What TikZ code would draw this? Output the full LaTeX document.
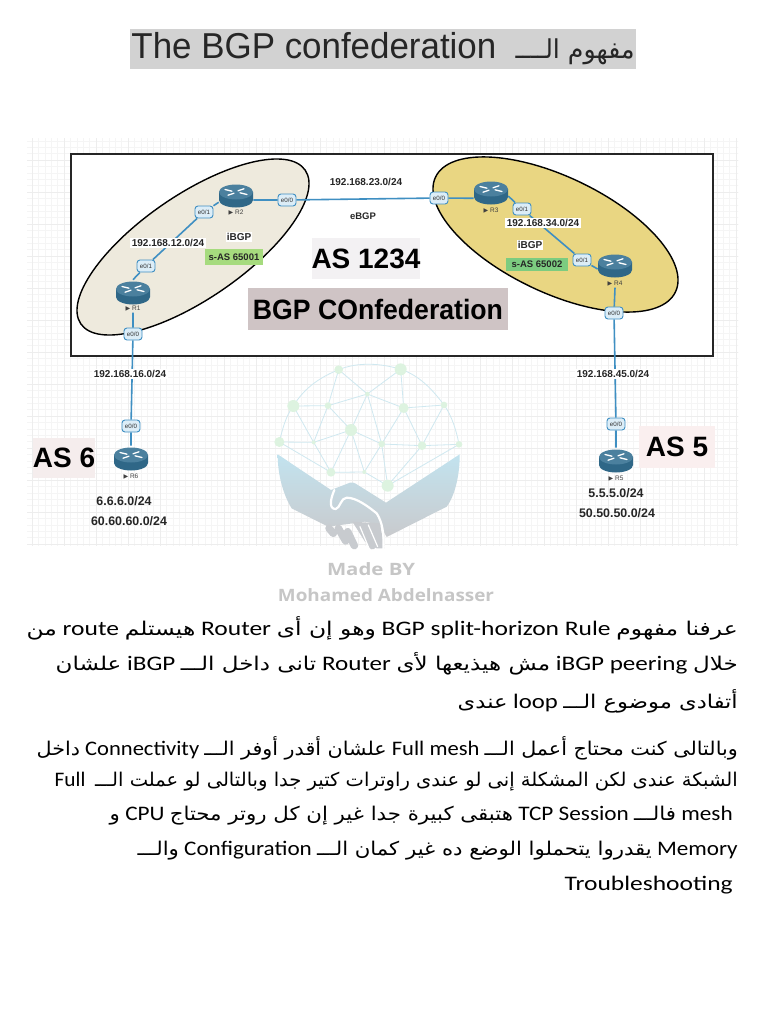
\documentclass[tikz,border=0pt]{standalone}
\usepackage{fontspec}
\usepackage{graphicx}
\setmainfont{Liberation Sans}
\newfontfamily\bodyfont{Carlito}
\newfontfamily\arfont[Script=Arabic]{DejaVu Sans}
\newfontfamily\symfont{DejaVu Sans}
\newfontfamily\markfont{Open Sans}
\TeXXeTstate=1
\newdimen\pxu \pxu=0.75pt
\newcommand{\fz}[1]{\fontsize{#1\pxu}{#1\pxu}\selectfont}
\newcommand{\A}[1]{{\arfont\fontsize{14.2pt}{16pt}\selectfont #1}}
\newcommand{\B}[1]{\beginL #1\endL{}}
\newcommand{\fitw}[2]{\resizebox{#1\pxu}{\height}{#2}}
\definecolor{linkblue}{HTML}{3F8FC2}
\definecolor{portfill}{HTML}{DCEDF7}
\definecolor{routertop}{HTML}{4B809E}
\definecolor{routerbody}{HTML}{2F6787}
\definecolor{gridminor}{HTML}{F5F5F5}
\definecolor{gridmajor}{HTML}{EDEDED}
\definecolor{wmedge}{HTML}{CFE8F0}
\definecolor{wmnode}{HTML}{DDF3E0}
\definecolor{wmgray}{HTML}{C8CBCF}
\definecolor{wmtop}{HTML}{C2E3EF}
\definecolor{wmbot}{HTML}{C9CACD}
\definecolor{markgray}{HTML}{C6C6C6}
\definecolor{ellA}{HTML}{EEEADD}
\definecolor{ellB}{HTML}{E9D682}
\definecolor{titlebg}{HTML}{D2D2D2}
\definecolor{sasA}{HTML}{A6DB7E}
\definecolor{sasB}{HTML}{7CCC80}
\definecolor{tagA}{HTML}{F3F1F3}
\definecolor{tagB}{HTML}{CFC4C5}
\definecolor{tagC}{HTML}{F5EDED}
\definecolor{tagD}{HTML}{FAEFEF}
\pgfdeclarelayer{bg}
\pgfdeclarelayer{ln}
\pgfsetlayers{bg,ln,main}
\tikzset{
  x=0.75pt,y=0.75pt,
  routerbox/.style={inner sep=0pt,minimum width=34\pxu,minimum height=26\pxu},
  routericon/.pic={
    \fill[routerbody] (-17,4) -- (-17,-4) arc[start angle=180,end angle=360,x radius=17,y radius=7.5] -- (17,4) -- cycle;
    \fill[routertop] (0,4) ellipse [x radius=17,y radius=7.5];
    \draw[white,line width=1.3\pxu,line cap=round] (-11,6.5) -- (-4,4.8) (11,1.5) -- (4,3.2) (-8,0.8) -- (-2,2.8) (8,7.2) -- (2,5.2);
  },
  rlabel/.style={inner sep=0.5pt,text=black!75,font=\fz{6.5}},
  porttag/.style={draw=linkblue,line width=0.9\pxu,fill=portfill,rounded corners=3\pxu,inner sep=0pt,minimum width=18\pxu,minimum height=12\pxu,font=\fz{6.2},text=black!80},
  linkline/.style={draw=linkblue,line width=1.6\pxu},
  netlabel/.style={fill=white,inner sep=1.5\pxu,font=\bfseries\fz{10},text=black!85},
  prefixtext/.style={inner sep=1\pxu,font=\bfseries\fz{12.4},text=black!85},
  bigtag/.style={inner sep=0pt,font=\bfseries\fz{28},text=black},
  ellipsebox/.style={draw=black,line width=1.4\pxu},
  sasbox/.style={inner sep=0pt,font=\bfseries\fz{9.5},text=black!85},
  textline/.style={anchor=east,inner sep=0pt,text=black,font=\bodyfont\fontsize{15.5pt}{18pt}\selectfont},
  wmline/.style={draw=wmedge,line width=0.8\pxu},
}
\begin{document}
\begin{tikzpicture}
\useasboundingbox (0,0) rectangle (768,-1024);

\begin{pgfonlayer}{bg}
  \fill[white] (0,0) rectangle (768,-1024);
  % grid panel
  \begin{scope}
    \clip (27,-138) rectangle (738,-545);
    \draw[gridminor,line width=0.6\pxu,step=6.4] (0,-576) grid (768,-128);
    \draw[gridmajor,line width=0.7\pxu,step=32] (0,-576) grid (768,-128);
  \end{scope}
  % watermark
  \begin{scope}[shift={(265,-355)},x=0.25pt,y=-0.25pt]
    \shade[top color=wmtop,bottom color=wmbot]
      (38,298) -- (198,405) -- (255,383) .. controls (262,381) and (266,383) .. (272,386)
      -- (363,443) -- (584,298) .. controls (585,350) and (572,420) .. (545,455)
      -- (365,546) -- (345,510) -- (300,500) -- (190,515) -- (80,460)
      .. controls (55,420) and (38,360) .. (38,298) -- cycle;
    \fill[wmgray] (262,500) -- (345,505) -- (358,580) -- (335,580) -- (300,560) -- cycle;
    \draw[wmgray,line width=7.5\pxu,line cap=round]
      (192,520) -- (205,535) (220,520) -- (242,558) (248,530) -- (268,572)
      (295,525) -- (322,572);
    \draw[white,line width=2.2\pxu,line cap=round,line join=round]
      (208,405) .. controls (195,435) and (192,462) .. (212,462)
      .. controls (225,460) and (228,428) .. (245,428)
      .. controls (275,428) and (310,455) .. (335,475)
      .. controls (352,500) and (358,540) .. (355,580);
    \draw[white,line width=1.2\pxu,line cap=round]
      (285,515) -- (312,580) (310,510) -- (338,575);
    \foreach \n/\px/\py in {a/221/44,b/407/43,c/307/117,d/85/153,e/189/152,f/416/159,g/537/150,h/258/225,i/146/262,j/43/261,k/350/267,l/471/272,m/582/268,n/198/352,o/298/351,p/368/392}
      \coordinate (w\n) at (\px,\py);
    \draw[wmline] (wj) .. controls (60,190) and (70,175) .. (wd) .. controls (120,95) and (170,65) .. (wa) .. controls (280,20) and (350,25) .. (wb) .. controls (460,60) and (500,100) .. (wg) .. controls (560,180) and (575,230) .. (wm);
    \foreach \u/\v in {a/c,b/c,a/e,c/e,c/f,b/f,c/h,c/k,d/e,d/i,e/i,e/h,h/i,h/k,h/n,h/o,i/j,i/n,j/n,k/f,k/l,k/o,k/p,f/g,f/l,g/l,l/m,l/p,m/p,o/n,o/p}
      \draw[wmline] (w\u) -- (w\v);
    \foreach \n/\r in {a/13,b/18,c/7,d/18,e/10,f/15,g/10,h/18,i/6,j/15,k/10,l/13,m/10,n/13,o/6,p/18}
      \fill[wmnode] (w\n) circle (\r);
  \end{scope}
  % outer frame and sub-AS ellipses
  \draw[black!85,line width=1.6\pxu,fill=white] (71,-154) rectangle (713,-356);
  \draw[ellipsebox,fill=ellA,rotate around={34.4:(193,-247)}] (193,-247) ellipse [x radius=136,y radius=52];
  \draw[ellipsebox,fill=ellB,rotate around={-25.6:(555.5,-234.5)}] (555.5,-234.5) ellipse [x radius=133,y radius=57.8];
\end{pgfonlayer}

% title
\node[fill=titlebg,inner sep=0pt,minimum width=506\pxu,minimum height=40\pxu,text=black!85] (title) at (383,-49)
  {\fitw{503}{\fz{36}The BGP confederation\ \ \beginR{\arfont\fz{26}مفهوم الــــ}\endR}};

% routers
\node[routerbox] (r1) at (133,-293) {};
\node[routerbox] (r2) at (236,-196) {};
\node[routerbox] (r3) at (491,-193) {};
\node[routerbox] (r4) at (615,-266) {};
\node[routerbox] (r5) at (616,-461) {};
\node[routerbox] (r6) at (131,-459) {};
\foreach \r in {r1,r2,r3,r4,r5,r6} \pic at (\r) {routericon};
\node[rlabel] (l1) at (133,-309) {{\symfont\fz{6}▶} R1};
\node[rlabel] (l2) at (236,-213) {{\symfont\fz{6}▶} R2};
\node[rlabel] (l3) at (491,-211) {{\symfont\fz{6}▶} R3};
\node[rlabel] (l4) at (615,-284) {{\symfont\fz{6}▶} R4};
\node[rlabel] (l5) at (616,-479) {{\symfont\fz{6}▶} R5};
\node[rlabel] (l6) at (131,-477) {{\symfont\fz{6}▶} R6};

% interface tags
\node[porttag] (p2a) at (287,-200) {e0/0};
\node[porttag] (p3a) at (439,-198) {e0/0};
\node[porttag] (p2b) at (204,-212) {e0/1};
\node[porttag] (p1b) at (146,-266) {e0/1};
\node[porttag] (p1a) at (133,-334) {e0/0};
\node[porttag] (p6a) at (131,-426) {e0/0};
\node[porttag] (p3b) at (522,-209) {e0/1};
\node[porttag] (p4b) at (582,-260) {e0/1};
\node[porttag] (p4a) at (614,-313) {e0/0};
\node[porttag] (p5a) at (616,-424) {e0/0};

% connectors
\begin{pgfonlayer}{ln}
  \draw[linkline] (r2.-13) -- (p2a) -- (p3a) -- (r3.197);
  \draw[linkline] (r1.north) -- (p1b) -- (p2b) -- (r2.200);
  \draw[linkline] (r3.-10) -- (p3b) -- (p4b) -- (r4.190);
  \draw[linkline] (l1.south) -- (p1a) -- (p6a) -- (r6.north);
  \draw[linkline] (l4.south) -- (p4a) -- (p5a) -- (r5.north);
\end{pgfonlayer}

% network labels
\node[netlabel] (n12) at (168,-243) {192.168.12.0/24};
\node[netlabel] (n23) at (366,-182) {192.168.23.0/24};
\node[netlabel] (n34) at (543,-223) {192.168.34.0/24};
\node[netlabel] (n16) at (130,-374) {192.168.16.0/24};
\node[netlabel] (n45) at (613,-374) {192.168.45.0/24};
\node[inner sep=1\pxu,font=\bfseries\fz{9.5},text=black!85] (ebgp) at (363,-216) {eBGP};
\node[inner sep=1\pxu,font=\bfseries\fz{10},text=black!85,fill=white] (ibgp1) at (239,-237) {iBGP};
\node[inner sep=1\pxu,font=\bfseries\fz{10},text=black!85,fill=white] (ibgp2) at (530,-245) {iBGP};
\node[sasbox,fill=sasA,minimum width=58\pxu,minimum height=16\pxu] (sas1) at (234,-257) {s-AS 65001};
\node[sasbox,fill=sasB,minimum width=62\pxu,minimum height=13\pxu] (sas2) at (537,-264.5) {s-AS 65002};

% big tags
\node[bigtag,fill=tagA,minimum width=108\pxu,minimum height=41\pxu] (as1234) at (366,-258.5) {AS 1234};
\node[bigtag,fill=tagB,minimum width=260\pxu,minimum height=42\pxu] (conf) at (378,-309) {\fitw{250}{BGP COnfederation}};
\node[bigtag,fill=tagC,minimum width=62\pxu,minimum height=40\pxu] (as6) at (64,-458) {AS 6};
\node[bigtag,fill=tagD,minimum width=76\pxu,minimum height=42\pxu] (as5) at (677,-447) {AS 5};

% advertised prefixes
\node[prefixtext] (pf1) at (124,-501) {6.6.6.0/24};
\node[prefixtext] (pf2) at (129,-521) {60.60.60.0/24};
\node[prefixtext] (pf3) at (616,-493) {5.5.5.0/24};
\node[prefixtext] (pf4) at (617,-513) {50.50.50.0/24};

% credit
\node[inner sep=0pt,text=markgray,font=\markfont\bfseries\fz{17}] (made) at (371,-569) {\fitw{88}{Made BY}};
\node[inner sep=0pt,text=markgray,font=\markfont\bfseries\fz{17}] (author) at (386,-595) {\fitw{216}{Mohamed Abdelnasser}};

% body text
\node[textline] (t1) at (738,-628) {\fitw{711}{\beginR\A{عرفنا مفهوم} \B{BGP split-horizon Rule} \A{وهو إن أى} \B{Router} \A{هيستلم} \B{route} \A{من}\endR}};
\node[textline] (t2) at (738,-664) {\fitw{682}{\beginR\A{خلال} \B{iBGP peering} \A{مش هيذيعها لأى} \B{Router} \A{تانى داخل الـــ} \B{iBGP} \A{علشان}\endR}};
\node[textline] (t3) at (738,-701) {\fitw{280}{\beginR\A{أتفادى موضوع الـــ} \B{loop} \A{عندى}\endR}};
\node[textline] (t4) at (738,-748) {\fitw{701}{\beginR\A{وبالتالى كنت محتاج أعمل الـــ} \B{Full mesh} \A{علشان أقدر أوفر الـــ} \B{Connectivity} \A{داخل}\endR}};
\node[textline] (t5) at (738,-782) {\fitw{683}{\beginR\A{الشبكة عندى لكن المشكلة إنى لو عندى راوترات كتير جدا وبالتالى لو عملت الـــ}\ \ \B{Full}\endR}};
\node[textline] (t6) at (733,-816) {\fitw{623}{\beginR\B{mesh} \A{فالـــ} \B{TCP Session} \A{هتبقى كبيرة جدا غير إن كل روتر محتاج} \B{CPU} \A{و}\endR}};
\node[textline] (t7) at (738,-851) {\fitw{600}{\beginR\B{Memory} \A{يقدروا يتحملوا الوضع ده غير كمان الـــ} \B{Configuration} \A{والـــ}\endR}};
\node[textline] (t8) at (733,-885) {\fitw{168}{Troubleshooting}};
\end{tikzpicture}
\end{document}
